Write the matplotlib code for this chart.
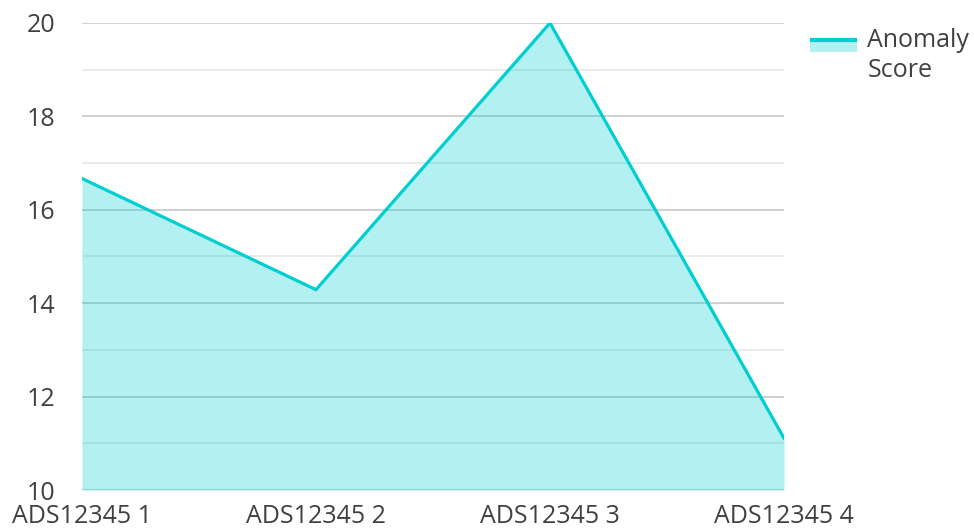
import matplotlib

matplotlib.use("Agg")
import matplotlib.pyplot as plt
from matplotlib.legend_handler import HandlerBase
from matplotlib.lines import Line2D
from matplotlib.patches import Rectangle

plt.rcParams["font.family"] = ["Open Sans", "DejaVu Sans"]

# Data
categories = ["ADS12345 1", "ADS12345 2", "ADS12345 3", "ADS12345 4"]
anomaly_score = [16.67, 14.29, 20.0, 11.11]
y_ticks = [10, 12, 14, 16, 18, 20]
y_minor = [11, 13, 15, 17, 19]

LINE = "#00CED1"
TEXT = "#404040"


class AreaHandler(HandlerBase):
    """Legend key: line level with the first text line, fill band under it."""

    def create_artists(self, legend, orig, xd, yd, w, h, fontsize, trans):
        y_line = yd + 0.5 * h + 0.95 * h
        rect = Rectangle((xd, y_line - 0.72 * h), w, 0.62 * h, facecolor=LINE,
                         alpha=0.3, edgecolor="none", transform=trans)
        line = Line2D([xd, xd + w], [y_line] * 2, color=LINE, lw=3,
                      solid_capstyle="butt", transform=trans)
        return [rect, line]


fig = plt.figure(figsize=(9.74, 5.31), dpi=100)
ax = fig.add_axes([0.0842, 0.0772, 0.7207, 0.8795])

x = list(range(len(categories)))
ax.fill_between(x, 10, anomaly_score, color=LINE, alpha=0.3, lw=0, zorder=2)
(ln,) = ax.plot(x, anomaly_score, color=LINE, lw=2.3, zorder=3,
                solid_joinstyle="miter")

ax.set_xlim(0, len(categories) - 1)
ax.set_ylim(10, 20)
ax.set_yticks(y_ticks)
ax.set_yticks(y_minor, minor=True)
ax.set_xticks(x, categories)
ax.grid(axis="y", which="major", color="#c8c8c8", lw=1.2, zorder=1)
ax.grid(axis="y", which="minor", color="#e6e6e6", lw=1.2, zorder=1)
ax.tick_params(axis="both", which="both", length=0, labelsize=18,
               labelcolor=TEXT)
ax.tick_params(axis="y", pad=19)
ax.tick_params(axis="x", pad=10)
for s in ax.spines.values():
    s.set_visible(False)

leg = ax.legend([ln], ["Anomaly\nScore"], handler_map={Line2D: AreaHandler()},
                loc="upper left", bbox_to_anchor=(1.037, 0.99), frameon=False,
                fontsize=18, labelcolor=TEXT, handlelength=1.9,
                handletextpad=0.4, borderaxespad=0.0, borderpad=0.0)
leg.get_texts()[0].set_linespacing(1.3)

fig.savefig("out.png", dpi=100)
